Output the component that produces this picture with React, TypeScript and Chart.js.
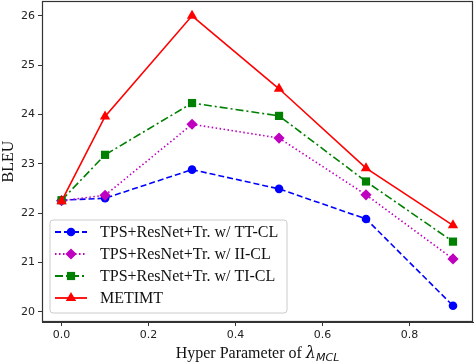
import React, { useEffect, useRef } from "react";
import { Chart, registerables } from "chart.js";

Chart.register(...registerables);

const xValues = [0, 0.1, 0.3, 0.5, 0.7, 0.9];
const xTicks = [0, 0.2, 0.4, 0.6, 0.8];
const yTicks = [20, 21, 22, 23, 24, 25, 26];
const ttcl = [22.26, 22.3, 22.88, 22.49, 21.88, 20.12];
const iicl = [22.25, 22.36, 23.8, 23.52, 22.37, 21.07];
const ticl = [22.26, 23.18, 24.23, 23.97, 22.64, 21.42];
const metimt = [22.24, 23.96, 26.0, 24.52, 22.91, 21.75];
const seriesNames = [
  "TPS+ResNet+Tr. w/ TT-CL",
  "TPS+ResNet+Tr. w/ II-CL",
  "TPS+ResNet+Tr. w/ TI-CL",
  "METIMT",
];
const yTitle = "BLEU";
const xTitle = "Hyper Parameter of ";

const styles = [
  { color: "#0000ff", dash: [6, 3], shape: "circle", r: 4.3 },
  { color: "#bf00bf", dash: [1.5, 2.5], shape: "rectRot", r: 5.6 },
  { color: "#008000", dash: [8, 3, 2, 3], shape: "rect", r: 5.8 },
  { color: "#ff0000", dash: [], shape: "triangle", r: 6 },
];

function drawMarker(ctx: CanvasRenderingContext2D, shape: string, x: number, y: number, r: number, color: string) {
  ctx.save();
  ctx.setLineDash([]);
  ctx.fillStyle = color;
  ctx.beginPath();
  if (shape === "circle") {
    ctx.arc(x, y, r, 0, Math.PI * 2);
  } else if (shape === "rectRot") {
    ctx.moveTo(x - r, y);
    ctx.lineTo(x, y - r);
    ctx.lineTo(x + r, y);
    ctx.lineTo(x, y + r);
    ctx.closePath();
  } else if (shape === "rect") {
    const s = Math.SQRT1_2 * r;
    ctx.rect(x - s, y - s, 2 * s, 2 * s);
  } else {
    const a = (Math.PI * 2) / 3;
    ctx.moveTo(x, y - r);
    ctx.lineTo(x + Math.sin(a) * r, y - Math.cos(a) * r);
    ctx.lineTo(x - Math.sin(a) * r, y - Math.cos(a) * r);
    ctx.closePath();
  }
  ctx.fill();
  ctx.restore();
}

const overlayPlugin = {
  id: "overlay",
  afterDraw(chart: any) {
    const ctx: CanvasRenderingContext2D = chart.ctx;
    const a = chart.chartArea;
    ctx.save();
    // frame
    ctx.strokeStyle = "#333";
    ctx.lineWidth = 1.2;
    ctx.setLineDash([]);
    ctx.strokeRect(a.left + 0.5, a.top + 0.5, a.right - a.left - 1, a.bottom - a.top - 1);

    // legend
    const bx = a.left + 8;
    const bw = 237;
    const bh = 93;
    const by = a.bottom - 9 - bh;
    ctx.beginPath();
    const rr = 3;
    ctx.moveTo(bx + rr, by);
    ctx.arcTo(bx + bw, by, bx + bw, by + bh, rr);
    ctx.arcTo(bx + bw, by + bh, bx, by + bh, rr);
    ctx.arcTo(bx, by + bh, bx, by, rr);
    ctx.arcTo(bx, by, bx + bw, by, rr);
    ctx.closePath();
    ctx.fillStyle = "rgba(255,255,255,0.85)";
    ctx.fill();
    ctx.strokeStyle = "#cccccc";
    ctx.lineWidth = 1;
    ctx.stroke();
    ctx.font = '16px "Liberation Serif", "DejaVu Serif", serif';
    ctx.textBaseline = "middle";
    ctx.textAlign = "left";
    seriesNames.forEach((name, i) => {
      const st = styles[i];
      const y = by + 12 + i * 22;
      ctx.strokeStyle = st.color;
      ctx.lineWidth = 1.8;
      ctx.setLineDash(st.dash);
      ctx.beginPath();
      ctx.moveTo(bx + 5, y);
      ctx.lineTo(bx + 37, y);
      ctx.stroke();
      drawMarker(ctx, st.shape, bx + 21, y, st.r, st.color);
      ctx.fillStyle = "#111";
      ctx.fillText(name, bx + 50, y + 1);
    });

    // y title
    ctx.save();
    ctx.translate(13, (a.top + a.bottom) / 2);
    ctx.rotate(-Math.PI / 2);
    ctx.textAlign = "center";
    ctx.textBaseline = "alphabetic";
    ctx.fillStyle = "#111";
    ctx.font = '16px "Liberation Serif", "DejaVu Serif", serif';
    ctx.fillText(yTitle, 0, 0);
    ctx.restore();

    // x title with subscript
    const fMain = '16px "Liberation Serif", "DejaVu Serif", serif';
    const fLam = 'italic 16px "DejaVu Serif", serif';
    const fSub = 'italic 11px "DejaVu Sans", sans-serif';
    ctx.textAlign = "left";
    ctx.textBaseline = "alphabetic";
    ctx.font = fMain;
    const w1 = ctx.measureText(xTitle).width;
    ctx.font = fLam;
    const w2 = ctx.measureText("λ").width;
    ctx.font = fSub;
    const w3 = ctx.measureText("MCL").width;
    const total = w1 + w2 + w3;
    let x = (a.left + a.right) / 2 - total / 2;
    const base = 358;
    ctx.fillStyle = "#111";
    ctx.font = fMain;
    ctx.fillText(xTitle, x, base);
    x += w1;
    ctx.font = fLam;
    ctx.fillText("λ", x, base);
    x += w2;
    ctx.font = fSub;
    ctx.fillText("MCL", x, base + 3);
    ctx.restore();
  },
};

export default function App() {
  const ref = useRef<HTMLCanvasElement | null>(null);
  useEffect(() => {
    if (!ref.current) return;
    const allSeries = [ttcl, iicl, ticl, metimt];
    const chart = new Chart(ref.current, {
      type: "line",
      data: {
        datasets: allSeries.map((vals, i) => ({
          label: seriesNames[i],
          data: vals.map((v, j) => ({ x: xValues[j], y: v })),
          borderColor: styles[i].color,
          backgroundColor: styles[i].color,
          borderWidth: 1.6,
          borderDash: styles[i].dash,
          pointStyle: styles[i].shape as any,
          pointRadius: styles[i].r,
          pointBorderWidth: 0,
          pointBackgroundColor: styles[i].color,
          pointBorderColor: styles[i].color,
          order: 4 - i,
          tension: 0,
        })),
      },
      options: {
        animation: false,
        responsive: false,
        devicePixelRatio: 1,
        layout: { padding: { left: 0, top: 1, right: 1, bottom: 0 }, autoPadding: false },
        plugins: { legend: { display: false }, tooltip: { enabled: false } },
        scales: {
          x: {
            type: "linear",
            min: -0.045,
            max: 0.946,
            afterBuildTicks: (s: any) => {
              s.ticks = xTicks.map((v) => ({ value: v }));
            },
            afterFit: (s: any) => {
              s.height = 40;
              s.paddingLeft = 0;
              s.paddingRight = 0;
            },
            ticks: {
              font: { family: "DejaVu Sans", size: 11 },
              color: "#222",
              padding: 3,
              callback: (v: any) => Number(v).toFixed(1),
            },
            grid: { drawOnChartArea: false, drawTicks: true, tickLength: 4, color: "#333" },
            border: { display: true, color: "#333" },
          },
          y: {
            type: "linear",
            min: 19.79,
            max: 26.3,
            afterBuildTicks: (s: any) => {
              s.ticks = yTicks.map((v) => ({ value: v }));
            },
            afterFit: (s: any) => {
              s.width = 42;
              s.paddingTop = 0;
              s.paddingBottom = 0;
            },
            ticks: {
              font: { family: "DejaVu Sans", size: 11 },
              color: "#222",
              padding: 3,
              callback: (v: any) => String(v),
            },
            grid: { drawOnChartArea: false, drawTicks: true, tickLength: 4, color: "#333" },
            border: { display: true, color: "#333" },
          },
        },
      },
      plugins: [overlayPlugin],
    });
    return () => chart.destroy();
  }, []);
  return (
    <div style={{ position: "absolute", left: 0, top: 0, width: 474, height: 362, background: "#fff" }}>
      <canvas ref={ref} width={474} height={362} style={{ display: "block" }} />
    </div>
  );
}
